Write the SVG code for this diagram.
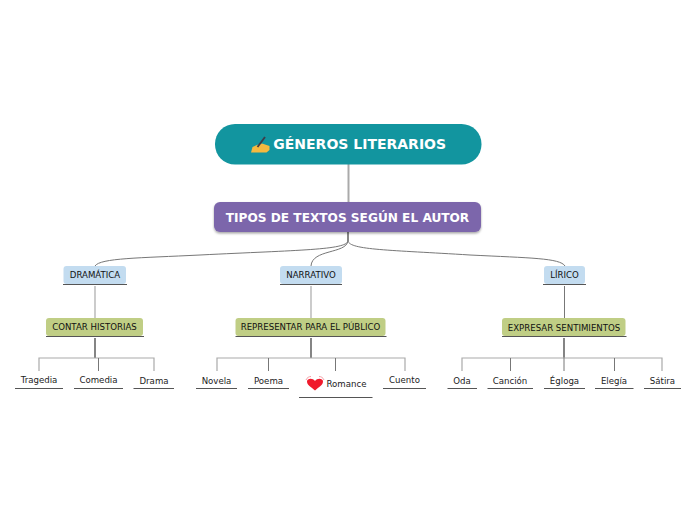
<svg xmlns="http://www.w3.org/2000/svg" width="696" height="520" viewBox="0 0 696 520">
<style>
text{font-family:"DejaVu Sans",Verdana,sans-serif;text-anchor:middle;fill:#111}
.main{font-weight:700;fill:#fff}
.l1{font-size:8.6px}
.l2{font-size:8.6px}
.leaf{font-size:8.6px;fill:#222}
.blue{fill:#c3dcf0}
.green{fill:#c0ce85}
.ul{stroke:#555;stroke-width:1;fill:none}
.c{fill:none;stroke:#777;stroke-width:1}
.g{fill:none;stroke:#aaa;stroke-width:1.2}
.d{fill:none;stroke:#444;stroke-width:1.3}
</style>
<defs>
<filter id="sh" x="-5%" y="-20%" width="110%" height="150%"><feDropShadow dx="0" dy="1.5" stdDeviation="1" flood-color="#000" flood-opacity=".35"/></filter>
</defs>
<rect width="696" height="520" fill="#fff"/>
<g id="connectors">
<path d="M348.500 164V202" fill="none" stroke="#aaa" stroke-width="2"/>
<path class="d" d="M348 232V241"/>
<path class="c" d="M348 241C346 250 300 250 200 255C140 258 100 258 95 266"/>
<path class="c" d="M348 241C346 254 312 249 311 266"/>
<path class="c" d="M348 241C350 250 390 250 470 255C530 258 560 258 565 266"/>
<path class="g" d="M95 286V318M311 286V318"/>
<path class="c" d="M564.500 286V318"/>
<path class="d" d="M95 338V358M311 338V358M564 338V358"/>
<path class="g" d="M39 371V358H154V371"/>
<path class="c" d="M98.500 358V371"/>
<path class="g" d="M217 371V358H405V371"/>
<path class="c" d="M268.500 358V371M335.500 358V371"/>
<path class="g" d="M462 371V358H662V371"/>
<path class="c" d="M510.500 358V371M564 358V371M614.500 358V371"/>
</g>
<g id="root">
<rect x="215" y="124" width="266.500" height="40.500" rx="20" fill="#12959f"/>
<g id="writing-hand-icon">
<path d="M251 152.500L252.500 147L257 145L262 143.500L269.500 146L269.500 150L266.500 152.500H252Z" fill="#f5b93f"/>
<path d="M257.500 147L265 137" stroke="#3d3d4a" stroke-width="1.800" fill="none"/>
</g>
<text class="main" x="359.700" y="149" font-size="14">GÉNEROS LITERARIOS</text>
</g>
<g id="tipos">
<rect x="214" y="202" width="267" height="30" rx="6" fill="#7c66ab" filter="url(#sh)"/>
<text class="main" x="347.500" y="222" font-size="12.150">TIPOS DE TEXTOS SEGÚN EL AUTOR</text>
</g>
<g id="dramatica">
<rect class="blue" x="63.500" y="266" width="62.500" height="18" rx="3"/>
<path class="ul" d="M63 284.500H127"/>
<text class="l1" x="95" y="278">DRAMÁTICA</text>
</g>
<g id="narrativo">
<rect class="blue" x="280" y="266" width="62" height="18" rx="3"/>
<path class="ul" d="M280 284.500H342"/>
<text class="l1" x="311" y="278">NARRATIVO</text>
</g>
<g id="lirico">
<rect class="blue" x="544" y="266" width="41" height="18" rx="3"/>
<path class="ul" d="M543 284.500H586"/>
<text class="l1" x="564.500" y="278">LÍRICO</text>
</g>
<g id="contar">
<rect class="green" x="46" y="318" width="97" height="18" rx="3"/>
<path class="ul" d="M46 336.500H144"/>
<text class="l2" x="94.500" y="330">CONTAR HISTORIAS</text>
</g>
<g id="representar">
<rect class="green" x="235.500" y="318" width="150" height="18" rx="3"/>
<path class="ul" d="M235.500 336.500H386.500"/>
<text class="l2" x="310.500" y="330">REPRESENTAR PARA EL PÚBLICO</text>
</g>
<g id="expresar">
<rect class="green" x="502" y="318" width="123.500" height="18" rx="3"/>
<path class="ul" d="M502 336.500H626.500"/>
<text class="l2" x="564" y="330.500">EXPRESAR SENTIMIENTOS</text>
</g>
<g id="tragedia"><path class="ul" d="M15 388.500H63"/><text class="leaf" x="39" y="382.500">Tragedia</text></g>
<g id="comedia"><path class="ul" d="M74 388.500H123"/><text class="leaf" x="98.500" y="382.500">Comedia</text></g>
<g id="drama"><path class="ul" d="M133.500 388.500H174"/><text class="leaf" x="154" y="383.500">Drama</text></g>
<g id="novela"><path class="ul" d="M196 388.500H237"/><text class="leaf" x="216.500" y="383.500">Novela</text></g>
<g id="poema"><path class="ul" d="M248 388.500H289"/><text class="leaf" x="268.500" y="383.500">Poema</text></g>
<g id="romance">
<path class="ul" d="M299 397.500H372.500"/>
<path d="M315 390.500C311 387 307 385 307 381.500C307 378.500 312.500 377.500 315 381C317.500 377.500 323 378.500 323 381.500C323 385 319 387 315 390.500Z" fill="#f01a2c"/>
<path d="M306 380C307 377.500 309 376.500 311 376.500M324 380C323 377.500 321 376.500 319 376.500" fill="none" stroke="#f4a0a8" stroke-width="1"/>
<text class="leaf" x="346.500" y="387">Romance</text>
</g>
<g id="cuento"><path class="ul" d="M383 388.500H426"/><text class="leaf" x="404.500" y="382.500">Cuento</text></g>
<g id="oda"><path class="ul" d="M447.500 388.500H477"/><text class="leaf" x="462" y="383.500">Oda</text></g>
<g id="cancion"><path class="ul" d="M487.500 388.500H533"/><text class="leaf" x="510" y="383.500">Canción</text></g>
<g id="egloga"><path class="ul" d="M544 388.500H585"/><text class="leaf" x="564.500" y="383.500">Égloga</text></g>
<g id="elegia"><path class="ul" d="M595 388.500H633.500"/><text class="leaf" x="614" y="383.500">Elegía</text></g>
<g id="satira"><path class="ul" d="M644 388.500H681"/><text class="leaf" x="662.500" y="383.500">Sátira</text></g>
</svg>
